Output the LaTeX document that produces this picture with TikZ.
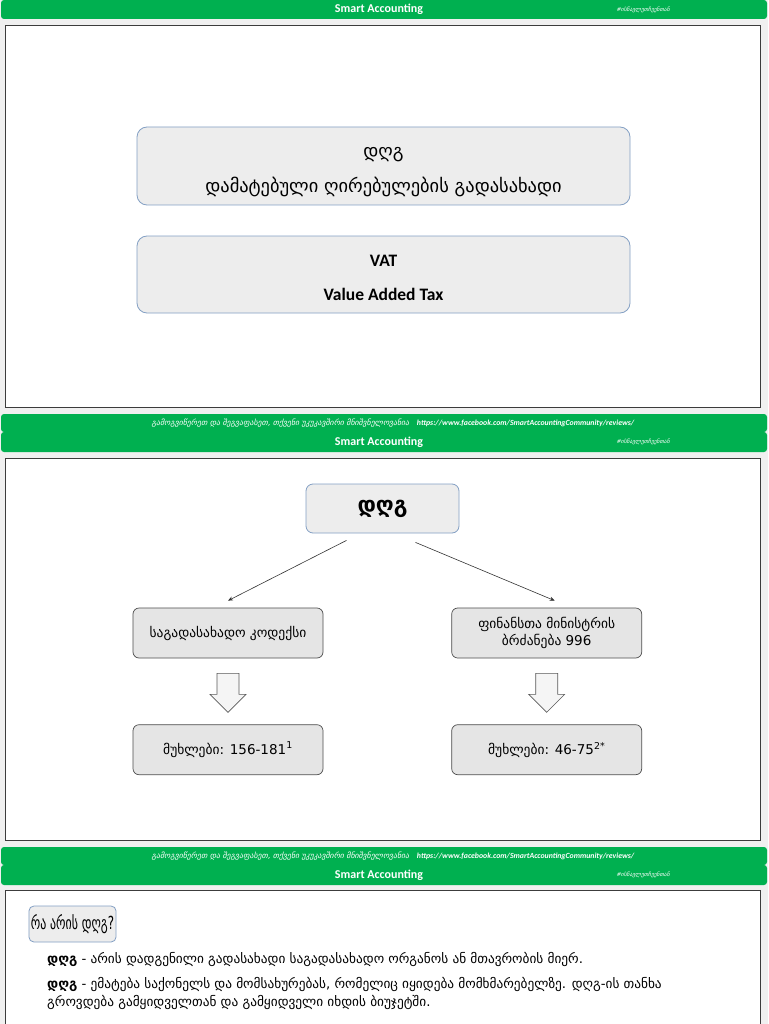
\documentclass[tikz,border=0pt]{standalone}
\usepackage{fontspec}
\usepackage{graphicx}
\setmainfont{Carlito}
\newfontfamily\geo{DejaVu Sans}
\newfontfamily\geoit[FakeSlant=0.2]{DejaVu Sans}
\usetikzlibrary{arrows.meta, positioning, calc}
\definecolor{smartgreen}{RGB}{0,176,80}
\definecolor{boxfill}{RGB}{237,237,237}
\definecolor{boxline}{RGB}{132,160,196}
\definecolor{frameline}{RGB}{60,60,60}
% hollow arrow under a box
\newcommand{\blockdown}[1]{\draw[blockarr] ([xshift=-11pt,yshift=-15pt]#1.south) -- ++(22,0) -- ++(0,21) -- ++(7,0) -- ++(-18,18) -- ++(-18,-18) -- ++(7,0) -- cycle;}

\begin{document}
\begin{tikzpicture}[x=1pt, y=-1pt, >=Stealth]
  \tikzset{
    greenbar/.style={fill=smartgreen, rounded corners=3pt, inner sep=0pt, minimum width=766pt},
    slide/.style={draw=frameline, fill=white, line width=0.8pt},
    bluebox/.style={draw=boxline, fill=boxfill, rounded corners=10pt, line width=0.8pt, align=center},
    greybox/.style={draw=black!70, fill=black!10, rounded corners=6pt, line width=0.7pt, minimum width=190pt, minimum height=50pt, align=center, font=\geo\fontsize{13.5}{17}\selectfont},
    blockarr/.style={draw=black!65, fill=black!4, line width=0.6pt},
    thinarr/.style={draw=black!80, line width=0.6pt, -{Stealth[length=5pt,width=4pt]}},
    headtitle/.style={text=white, font=\bfseries\fontsize{12}{14}\selectfont},
    tagline/.style={text=white, font=\geoit\fontsize{5.5}{7}\selectfont},
    footline/.style={text=white, font=\fontsize{7.8}{9}\selectfont},
    geotitle/.style={font=\geo\fontsize{18.4}{20}\selectfont, inner sep=0pt},
    vattitle/.style={font=\bfseries\fontsize{17.5}{20}\selectfont, inner sep=0pt},
    bodytext/.style={font=\geo\fontsize{13.3}{18}\selectfont, align=left, inner sep=0pt},
  }
  \useasboundingbox[fill=black!6] (0,0) rectangle (768,1024);

  % slide 1
  \node[greenbar, minimum height=19pt] (head1) at (384,9.5) {};
  \node[headtitle] (title1) at (379,9.5) {Smart Accounting};
  \node[tagline] (tag1) at (643,9.5) {\#ისწავლეთჩვენთან};
  \draw[slide] (5,25) rectangle (760,407);
  \node[bluebox, minimum width=493pt, minimum height=78pt] (dgg) at (383.5,166) {};
  \node[geotitle] (dggshort) at ($(dgg.center)+(0,-11)$) {დღგ};
  \node[geotitle] (dgglong) at ($(dgg.center)+(0,21)$) {დამატებული ღირებულების გადასახადი};
  \node[bluebox, minimum width=493pt, minimum height=77pt] (vat) at (383.5,274.5) {};
  \node[vattitle] (vatshort) at ($(vat.center)+(0,-14)$) {VAT};
  \node[vattitle] (vatlong) at ($(vat.center)+(0,20)$) {Value Added Tax};

  % footer 1 + slide 2
  \node[greenbar, minimum height=18pt] (foot1) at (384,423) {};
  \node[footline] (feed1) at (393,423) {{\geoit გამოგვიწერეთ და შეგვაფასეთ, თქვენი უკუკავშირი მნიშვნელოვანია}\quad\itshape\bfseries https://www.facebook.com/SmartAccountingCommunity/reviews/};
  \node[greenbar, minimum height=20pt] (head2) at (384,442) {};
  \node[headtitle] (title2) at (379,442) {Smart Accounting};
  \node[tagline] (tag2) at (643,442) {\#ისწავლეთჩვენთან};
  \draw[slide] (5,458) rectangle (760,840);

  \node[bluebox, rounded corners=7pt, minimum width=153pt, minimum height=49pt, font=\geo\bfseries\fontsize{22}{24}\selectfont] (dggtop) at (382.5,508.5) {\raisebox{-3pt}{დღგ}};
  \node[greybox] (codex) at (228,633) {საგადასახადო კოდექსი};
  \node[greybox, right=128pt of codex] (finmin) {ფინანსთა მინისტრის\\ბრძანება 996};
  \node[greybox, below=66pt of codex] (art1) {მუხლები: 156-181\textsuperscript{1}};
  \node[greybox, below=66pt of finmin] (art2) {მუხლები: 46-75\textsuperscript{2*}};
  \draw[thinarr] ([xshift=-36pt,yshift=-7pt]dggtop.south) -- ([yshift=7pt]codex.north);
  \draw[thinarr] ([xshift=33pt,yshift=-9pt]dggtop.south) -- ([xshift=8pt,yshift=7pt]finmin.north);
  \blockdown{codex}
  \blockdown{finmin}

  % footer 2 + slide 3
  \node[greenbar, minimum height=18pt] (foot2) at (384,856) {};
  \node[footline] (feed2) at (393,856) {{\geoit გამოგვიწერეთ და შეგვაფასეთ, თქვენი უკუკავშირი მნიშვნელოვანია}\quad\itshape\bfseries https://www.facebook.com/SmartAccountingCommunity/reviews/};
  \node[greenbar, minimum height=20pt] (head3) at (384,875) {};
  \node[headtitle] (title3) at (379,875) {Smart Accounting};
  \node[tagline] (tag3) at (643,875) {\#ისწავლეთჩვენთან};
  \draw[slide] (5,890) rectangle (760,1030);

  \node[bluebox, rounded corners=5pt, minimum width=85pt, minimum height=36pt, inner sep=2pt, font=\geo\fontsize{18}{20}\selectfont] (whatis) at (72.5,924) {\scalebox{0.66}[1]{რა არის დღგ?}};
  \node[bodytext, anchor=north west] (line1) at (47,952) {{\bfseries დღგ} - არის დადგენილი გადასახადი საგადასახადო ორგანოს ან მთავრობის მიერ.};
  \node[bodytext, anchor=north west] (line2) at (47,977) {{\bfseries დღგ} - ემატება საქონელს და მომსახურებას, რომელიც იყიდება მომხმარებელზე. დღგ-ის თანხა\\გროვდება გამყიდველთან და გამყიდველი იხდის ბიუჯეტში.};
\end{tikzpicture}
\end{document}
